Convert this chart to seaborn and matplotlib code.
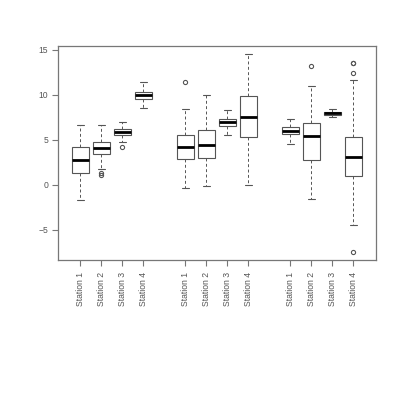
import pandas as pd
import matplotlib
matplotlib.use("Agg")
import matplotlib.pyplot as plt
import seaborn as sns

# Box statistics (3 groups x 4 stations)
stations = ["Station 1", "Station 2", "Station 3", "Station 4"] * 3
positions = [1, 2, 3, 4, 6, 7, 8, 9, 11, 12, 13, 14]
whis_lo = [-1.63, 1.78, 4.74, 8.5, -0.33, -0.08, 5.56, 0.0, 4.59, -1.56, 7.52, -4.41]
q1 = [1.33, 3.4, 5.56, 9.59, 2.89, 3.03, 6.56, 5.33, 5.67, 2.81, 7.78, 1.03]
medians = [2.74, 4.07, 5.89, 9.96, 4.26, 4.48, 6.96, 7.52, 5.96, 5.41, 7.96, 3.07]
q3 = [4.22, 4.74, 6.22, 10.33, 5.56, 6.07, 7.33, 9.89, 6.44, 6.89, 8.15, 5.37]
whis_hi = [6.67, 6.67, 7.0, 11.4, 8.48, 9.96, 8.33, 14.5, 7.33, 10.96, 8.44, 11.63]
outliers = [[], [1.3, 1.15], [4.26], [], [11.4], [], [], [], [], [13.18], [],
            [13.59, 13.55, 12.48, -7.48]]

# Build a small sample per box whose quartiles / whiskers reproduce the stats
rows = []
for i, pos in enumerate(positions):
    low = sorted(v for v in outliers[i] if v < q1[i])
    high = sorted(v for v in outliers[i] if v > q3[i])
    k = max(len(low), len(high)) + 1
    below = low + [whis_lo[i]] * (k - len(low))
    above = [whis_hi[i]] * (k - len(high)) + high
    sample = (below + [q1[i]] + [q1[i]] * (k - 1) + [medians[i]]
              + [q3[i]] * (k - 1) + [q3[i]] + above)
    for v in sample:
        rows.append({"pos": pos, "value": v})
df = pd.DataFrame(rows)

sns.set_style("white")
plt.rcParams["font.family"] = ["Liberation Sans", "DejaVu Sans"]

fig = plt.figure(figsize=(4.0, 3.99), dpi=100)
ax = fig.add_axes([0.145, 0.348, 0.794, 0.537])

edge = "#555555"
sns.boxplot(data=df, x="pos", y="value", native_scale=True, width=0.8,
            color="white", linecolor=edge, linewidth=0.8, fliersize=3,
            flierprops=dict(marker="o", markerfacecolor="none",
                            markeredgecolor=edge, markeredgewidth=0.8),
            whiskerprops=dict(linestyle=(0, (3, 2.5)), linewidth=0.7),
            capprops=dict(linewidth=0.8),
            medianprops=dict(color="black", linewidth=2.0),
            capwidths=0.32,
            ax=ax)

ax.set_xlim(-0.06, 15.06)
ax.set_ylim(-8.35, 15.45)
ax.set_xticks(positions)
ax.set_xticklabels(stations, rotation=90)
ax.set_yticks([-5, 0, 5, 10, 15])
ax.set_xlabel("")
ax.set_ylabel("")

for s in ax.spines.values():
    s.set_visible(True)
    s.set_color("#777777")
    s.set_linewidth(0.9)

ax.tick_params(axis="both", direction="out", length=4, width=0.8,
               color="#777777", labelsize=6.2, labelcolor="#555555")
ax.tick_params(axis="x", pad=4.5)
ax.tick_params(axis="y", pad=3)
ax.tick_params(bottom=True, left=True, top=False, right=False)

fig.savefig("out.png", dpi=100)
